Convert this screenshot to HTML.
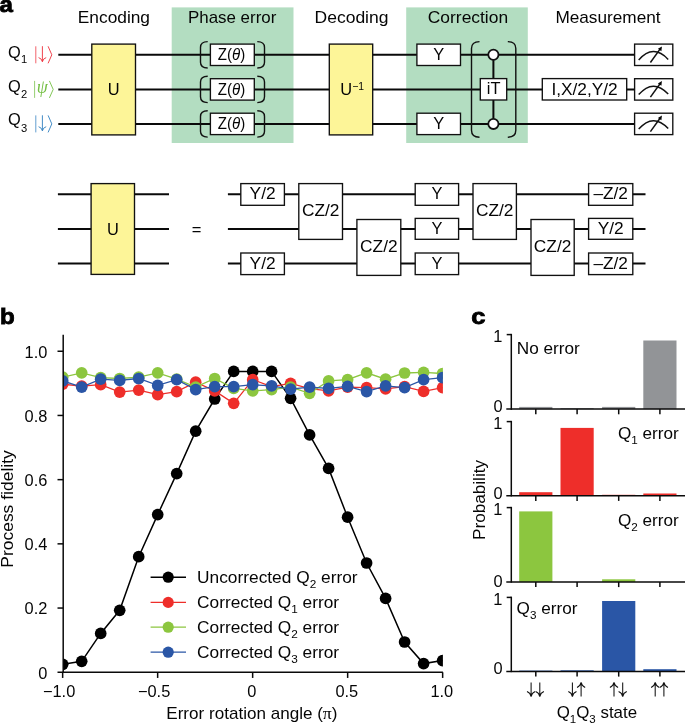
<!DOCTYPE html>
<html><head><meta charset="utf-8"><title>Figure</title>
<style>
html,body{margin:0;padding:0;background:#fff;}
body{width:685px;height:725px;overflow:hidden;}
svg{display:block;will-change:transform;font-family:"Liberation Sans",sans-serif;}
</style></head>
<body>
<svg width="685" height="725" viewBox="0 0 685 725">
<rect width="685" height="725" fill="#fff"/>
<rect x="171.7" y="7.4" width="121.8" height="135.6" fill="#b3ddc1"/>
<rect x="406.2" y="7.4" width="121.6" height="135.6" fill="#b3ddc1"/>
<line x1="58.3" y1="54.8" x2="634.6" y2="54.8" stroke="#0a0a0a" stroke-width="2.05"/>
<line x1="58.3" y1="89.4" x2="634.6" y2="89.4" stroke="#0a0a0a" stroke-width="2.05"/>
<line x1="58.3" y1="123.9" x2="634.6" y2="123.9" stroke="#0a0a0a" stroke-width="2.05"/>
<text x="77.8" y="23.0" font-size="16.4" text-anchor="start" fill="#050505" textLength="72.2" lengthAdjust="spacingAndGlyphs" >Encoding</text>
<text x="188.0" y="23.0" font-size="16.4" text-anchor="start" fill="#050505" textLength="88.3" lengthAdjust="spacingAndGlyphs" >Phase error</text>
<text x="314.5" y="23.0" font-size="16.4" text-anchor="start" fill="#050505" textLength="74" lengthAdjust="spacingAndGlyphs" >Decoding</text>
<text x="427.8" y="23.0" font-size="16.4" text-anchor="start" fill="#050505" textLength="80.3" lengthAdjust="spacingAndGlyphs" >Correction</text>
<text x="555.4" y="23.0" font-size="16.4" text-anchor="start" fill="#050505" textLength="105.2" lengthAdjust="spacingAndGlyphs" >Measurement</text>
<text x="-0.6" y="11.9" font-size="21.5" text-anchor="start" fill="#000" textLength="13.4" lengthAdjust="spacingAndGlyphs" font-weight="bold" stroke="#000" stroke-width="0.8">a</text>
<text x="0.0" y="324" font-size="21.5" text-anchor="start" fill="#000" textLength="14.7" lengthAdjust="spacingAndGlyphs" font-weight="bold" stroke="#000" stroke-width="0.8">b</text>
<text x="471.3" y="324" font-size="21.5" text-anchor="start" fill="#000" textLength="14.2" lengthAdjust="spacingAndGlyphs" font-weight="bold" stroke="#000" stroke-width="0.8">c</text>
<rect x="91.8" y="44.1" width="43.7" height="90.8" fill="#fdf598" stroke="#111" stroke-width="1.35"/>
<text x="113.6" y="94.6" font-size="16.4" text-anchor="middle" fill="#050505" >U</text>
<rect x="329.3" y="44.1" width="43.4" height="90.8" fill="#fdf598" stroke="#111" stroke-width="1.35"/>
<text x="340.2" y="94.5" font-size="16.4" text-anchor="start" fill="#050505" >U</text>
<text x="352.2" y="90.0" font-size="10.4" text-anchor="start" fill="#050505" >&#8722;1</text>
<rect x="210.4" y="44.099999999999994" width="43.9" height="21.4" fill="#fff" stroke="#111" stroke-width="1.35"/>
<text x="217.8" y="59.9" font-size="16.4" fill="#050505" textLength="27.4" lengthAdjust="spacingAndGlyphs">Z(<tspan font-style="italic">&#952;</tspan>)</text>
<path d="M207.7,41.6 Q200.5,41.6 200.5,47.4 L200.5,62.2 Q200.5,68.0 207.7,68.0" fill="none" stroke="#111" stroke-width="1.4"/>
<path d="M257.3,41.6 Q264.5,41.6 264.5,47.4 L264.5,62.2 Q264.5,68.0 257.3,68.0" fill="none" stroke="#111" stroke-width="1.4"/>
<rect x="210.4" y="78.7" width="43.9" height="21.4" fill="#fff" stroke="#111" stroke-width="1.35"/>
<text x="217.8" y="94.5" font-size="16.4" fill="#050505" textLength="27.4" lengthAdjust="spacingAndGlyphs">Z(<tspan font-style="italic">&#952;</tspan>)</text>
<path d="M207.7,76.2 Q200.5,76.2 200.5,82.0 L200.5,96.8 Q200.5,102.6 207.7,102.6" fill="none" stroke="#111" stroke-width="1.4"/>
<path d="M257.3,76.2 Q264.5,76.2 264.5,82.0 L264.5,96.8 Q264.5,102.6 257.3,102.6" fill="none" stroke="#111" stroke-width="1.4"/>
<rect x="210.4" y="113.2" width="43.9" height="21.4" fill="#fff" stroke="#111" stroke-width="1.35"/>
<text x="217.8" y="129.0" font-size="16.4" fill="#050505" textLength="27.4" lengthAdjust="spacingAndGlyphs">Z(<tspan font-style="italic">&#952;</tspan>)</text>
<path d="M207.7,110.7 Q200.5,110.7 200.5,116.5 L200.5,131.3 Q200.5,137.1 207.7,137.1" fill="none" stroke="#111" stroke-width="1.4"/>
<path d="M257.3,110.7 Q264.5,110.7 264.5,116.5 L264.5,131.3 Q264.5,137.1 257.3,137.1" fill="none" stroke="#111" stroke-width="1.4"/>
<rect x="416.9" y="44.099999999999994" width="43.6" height="21.4" fill="#fff" stroke="#111" stroke-width="1.35"/>
<text x="438.7" y="59.9" font-size="16.4" text-anchor="middle" fill="#050505" >Y</text>
<rect x="416.9" y="113.2" width="43.6" height="21.4" fill="#fff" stroke="#111" stroke-width="1.35"/>
<text x="438.7" y="129.0" font-size="16.4" text-anchor="middle" fill="#050505" >Y</text>
<path d="M479.5,41.6 Q471.5,41.6 471.5,48.5 L471.5,130.3 Q471.5,137.2 479.5,137.2" fill="none" stroke="#111" stroke-width="1.4"/>
<path d="M507.79999999999995,41.6 Q515.8,41.6 515.8,48.5 L515.8,130.3 Q515.8,137.2 507.79999999999995,137.2" fill="none" stroke="#111" stroke-width="1.4"/>
<line x1="493.4" y1="54.8" x2="493.4" y2="123.9" stroke="#0a0a0a" stroke-width="2.0"/>
<circle cx="493.4" cy="54.8" r="5.1" fill="#fff" stroke="#111" stroke-width="1.8"/>
<circle cx="493.4" cy="123.9" r="5.1" fill="#fff" stroke="#111" stroke-width="1.8"/>
<rect x="480.3" y="78.6" width="26.4" height="21.4" fill="#fff" stroke="#111" stroke-width="1.35"/>
<text x="493.6" y="94.2" font-size="16.4" text-anchor="middle" fill="#050505" >iT</text>
<rect x="542.3" y="78.6" width="84.4" height="21.4" fill="#fff" stroke="#111" stroke-width="1.35"/>
<text x="584.6" y="94.5" font-size="16.4" text-anchor="middle" fill="#050505" textLength="66.3" lengthAdjust="spacingAndGlyphs" >I,X/2,Y/2</text>
<rect x="634.6" y="44.099999999999994" width="38.2" height="21.4" fill="#fff" stroke="#111" stroke-width="1.35"/>
<path d="M638.7,60.0 Q653.3,43.4 668.2,59.4" fill="none" stroke="#111" stroke-width="1.5"/>
<path d="M650.4,62.5 L660.4,48.6" fill="none" stroke="#111" stroke-width="1.5"/>
<path d="M661.9,46.5 L657.9,48.8 L661.4,51.2 Z" fill="#050505"/>
<rect x="634.6" y="78.7" width="38.2" height="21.4" fill="#fff" stroke="#111" stroke-width="1.35"/>
<path d="M638.7,94.6 Q653.3,78.0 668.2,94.0" fill="none" stroke="#111" stroke-width="1.5"/>
<path d="M650.4,97.1 L660.4,83.2" fill="none" stroke="#111" stroke-width="1.5"/>
<path d="M661.9,81.1 L657.9,83.4 L661.4,85.8 Z" fill="#050505"/>
<rect x="634.6" y="113.2" width="38.2" height="21.4" fill="#fff" stroke="#111" stroke-width="1.35"/>
<path d="M638.7,129.1 Q653.3,112.5 668.2,128.5" fill="none" stroke="#111" stroke-width="1.5"/>
<path d="M650.4,131.6 L660.4,117.7" fill="none" stroke="#111" stroke-width="1.5"/>
<path d="M661.9,115.6 L657.9,117.9 L661.4,120.3 Z" fill="#050505"/>
<text x="7.9" y="57.5" font-size="16.4" fill="#050505">Q<tspan dx="0.3" font-size="11.2" dy="5.9">1</tspan></text>
<text x="7.9" y="92.1" font-size="16.4" fill="#050505">Q<tspan dx="0.3" font-size="11.2" dy="5.9">2</tspan></text>
<text x="7.9" y="125.3" font-size="16.4" fill="#050505">Q<tspan dx="0.3" font-size="11.2" dy="6.5">3</tspan></text>
<g stroke="#ed2f3a" fill="none">
<path stroke-width="0.75" d="M35.8,46.3 V63.3"/>
<path stroke-width="0.9" d="M48.1,46.3 L51.8,54.8 L48.1,63.3"/>
<path stroke-width="0.9" d="M42.4,46.2 V61.2"/>
<path stroke-width="0.9" d="M38.6,57.6 Q41.8,58.5 42.4,61.8 Q43.0,58.5 46.2,57.6"/>
</g>
<g stroke="#74bf44" fill="none">
<path stroke-width="0.75" d="M34.6,80.9 V97.9"/>
<path stroke-width="0.9" d="M49.4,80.9 L53.2,89.4 L49.4,97.9"/>
</g>
<text x="42.3" y="93.0" font-size="18.5" font-family="Liberation Serif, serif" font-style="italic" text-anchor="middle" fill="#74bf44" textLength="11" lengthAdjust="spacingAndGlyphs">&#968;</text>
<g stroke="#2f7fc0" fill="none">
<path stroke-width="0.75" d="M35.8,115.4 V132.4"/>
<path stroke-width="0.9" d="M48.1,115.4 L51.8,123.9 L48.1,132.4"/>
<path stroke-width="0.9" d="M42.4,115.3 V130.3"/>
<path stroke-width="0.9" d="M38.6,126.7 Q41.8,127.6 42.4,130.9 Q43.0,127.6 46.2,126.7"/>
</g>
<line x1="57.9" y1="194.3" x2="169" y2="194.3" stroke="#0a0a0a" stroke-width="2.05"/>
<line x1="57.9" y1="228.9" x2="169" y2="228.9" stroke="#0a0a0a" stroke-width="2.05"/>
<line x1="57.9" y1="263.5" x2="169" y2="263.5" stroke="#0a0a0a" stroke-width="2.05"/>
<rect x="91.1" y="183.6" width="43.4" height="90.8" fill="#fdf598" stroke="#111" stroke-width="1.35"/>
<text x="112.9" y="234.9" font-size="16.4" text-anchor="middle" fill="#050505" >U</text>
<text x="196.6" y="235.3" font-size="16.5" text-anchor="middle" fill="#050505" >=</text>
<line x1="227.9" y1="194.3" x2="645.5" y2="194.3" stroke="#0a0a0a" stroke-width="2.05"/>
<line x1="227.9" y1="228.9" x2="645.5" y2="228.9" stroke="#0a0a0a" stroke-width="2.05"/>
<line x1="227.9" y1="263.5" x2="645.5" y2="263.5" stroke="#0a0a0a" stroke-width="2.05"/>
<rect x="240.8" y="183.6" width="43.6" height="21.7" fill="#fff" stroke="#111" stroke-width="1.35"/>
<text x="262.6" y="199.4" font-size="16.4" text-anchor="middle" fill="#050505" textLength="26" lengthAdjust="spacingAndGlyphs" >Y/2</text>
<rect x="240.8" y="253.0" width="43.6" height="21.6" fill="#fff" stroke="#111" stroke-width="1.35"/>
<text x="262.6" y="268.8" font-size="16.4" text-anchor="middle" fill="#050505" textLength="26" lengthAdjust="spacingAndGlyphs" >Y/2</text>
<rect x="298.8" y="183.6" width="43.7" height="55.8" fill="#fff" stroke="#111" stroke-width="1.35"/>
<text x="320.65" y="216.4" font-size="16.4" text-anchor="middle" fill="#050505" textLength="37.5" lengthAdjust="spacingAndGlyphs" >CZ/2</text>
<rect x="356.9" y="219.5" width="43.9" height="55.9" fill="#fff" stroke="#111" stroke-width="1.35"/>
<text x="378.85" y="252.3" font-size="16.4" text-anchor="middle" fill="#050505" textLength="37.5" lengthAdjust="spacingAndGlyphs" >CZ/2</text>
<rect x="415.2" y="183.6" width="43.4" height="21.7" fill="#fff" stroke="#111" stroke-width="1.35"/>
<text x="436.9" y="199.4" font-size="16.4" text-anchor="middle" fill="#050505" >Y</text>
<rect x="415.2" y="218.4" width="43.4" height="20.9" fill="#fff" stroke="#111" stroke-width="1.35"/>
<text x="436.9" y="233.9" font-size="16.4" text-anchor="middle" fill="#050505" >Y</text>
<rect x="415.2" y="253.0" width="43.4" height="21.6" fill="#fff" stroke="#111" stroke-width="1.35"/>
<text x="436.9" y="268.8" font-size="16.4" text-anchor="middle" fill="#050505" >Y</text>
<rect x="473" y="183.6" width="43.4" height="55.8" fill="#fff" stroke="#111" stroke-width="1.35"/>
<text x="494.7" y="216.4" font-size="16.4" text-anchor="middle" fill="#050505" textLength="37.5" lengthAdjust="spacingAndGlyphs" >CZ/2</text>
<rect x="531" y="219.5" width="43.2" height="55.9" fill="#fff" stroke="#111" stroke-width="1.35"/>
<text x="552.6" y="252.3" font-size="16.4" text-anchor="middle" fill="#050505" textLength="37.5" lengthAdjust="spacingAndGlyphs" >CZ/2</text>
<rect x="588.6" y="183.6" width="44.2" height="21.7" fill="#fff" stroke="#111" stroke-width="1.35"/>
<text x="610.7" y="199.4" font-size="16.4" text-anchor="middle" fill="#050505" textLength="34.5" lengthAdjust="spacingAndGlyphs" >&#8211;Z/2</text>
<rect x="588.6" y="218.4" width="44.2" height="20.9" fill="#fff" stroke="#111" stroke-width="1.35"/>
<text x="610.7" y="233.9" font-size="16.4" text-anchor="middle" fill="#050505" textLength="26" lengthAdjust="spacingAndGlyphs" >Y/2</text>
<rect x="588.6" y="253.0" width="44.2" height="21.6" fill="#fff" stroke="#111" stroke-width="1.35"/>
<text x="610.7" y="268.8" font-size="16.4" text-anchor="middle" fill="#050505" textLength="34.5" lengthAdjust="spacingAndGlyphs" >&#8211;Z/2</text>
<clipPath id="cb"><rect x="63.2" y="330" width="379.7" height="345"/></clipPath>
<g clip-path="url(#cb)">
<polyline points="62.7,664.3 81.7,661.3 100.7,633.4 119.7,610.3 138.7,556.7 157.7,514.6 176.7,473.6 195.7,431.2 214.7,399.0 233.7,371.4 252.7,371.4 271.6,371.4 290.6,398.3 309.6,434.9 328.6,468.4 347.6,517.2 366.6,563.0 385.6,598.4 404.6,642.0 423.6,663.6 442.6,660.6" fill="none" stroke="#000" stroke-width="1.5"/>
<circle cx="62.7" cy="664.3" r="5.85" fill="#000"/>
<circle cx="81.7" cy="661.3" r="5.85" fill="#000"/>
<circle cx="100.7" cy="633.4" r="5.85" fill="#000"/>
<circle cx="119.7" cy="610.3" r="5.85" fill="#000"/>
<circle cx="138.7" cy="556.7" r="5.85" fill="#000"/>
<circle cx="157.7" cy="514.6" r="5.85" fill="#000"/>
<circle cx="176.7" cy="473.6" r="5.85" fill="#000"/>
<circle cx="195.7" cy="431.2" r="5.85" fill="#000"/>
<circle cx="214.7" cy="399.0" r="5.85" fill="#000"/>
<circle cx="233.7" cy="371.4" r="5.85" fill="#000"/>
<circle cx="252.7" cy="371.4" r="5.85" fill="#000"/>
<circle cx="271.6" cy="371.4" r="5.85" fill="#000"/>
<circle cx="290.6" cy="398.3" r="5.85" fill="#000"/>
<circle cx="309.6" cy="434.9" r="5.85" fill="#000"/>
<circle cx="328.6" cy="468.4" r="5.85" fill="#000"/>
<circle cx="347.6" cy="517.2" r="5.85" fill="#000"/>
<circle cx="366.6" cy="563.0" r="5.85" fill="#000"/>
<circle cx="385.6" cy="598.4" r="5.85" fill="#000"/>
<circle cx="404.6" cy="642.0" r="5.85" fill="#000"/>
<circle cx="423.6" cy="663.6" r="5.85" fill="#000"/>
<circle cx="442.6" cy="660.6" r="5.85" fill="#000"/>
<polyline points="62.7,384.2 81.7,386.2 100.7,384.7 119.7,392.1 138.7,390.1 157.7,394.6 176.7,391.6 195.7,382.2 214.7,390.9 233.7,403.3 252.7,379.7 271.6,386.7 290.6,383.4 309.6,388.6 328.6,390.9 347.6,387.1 366.6,387.6 385.6,388.9 404.6,386.7 423.6,391.4 442.6,387.6" fill="none" stroke="#ee2e2a" stroke-width="1.3"/>
<circle cx="62.7" cy="384.2" r="5.85" fill="#ee2e2a"/>
<circle cx="81.7" cy="386.2" r="5.85" fill="#ee2e2a"/>
<circle cx="100.7" cy="384.7" r="5.85" fill="#ee2e2a"/>
<circle cx="119.7" cy="392.1" r="5.85" fill="#ee2e2a"/>
<circle cx="138.7" cy="390.1" r="5.85" fill="#ee2e2a"/>
<circle cx="157.7" cy="394.6" r="5.85" fill="#ee2e2a"/>
<circle cx="176.7" cy="391.6" r="5.85" fill="#ee2e2a"/>
<circle cx="195.7" cy="382.2" r="5.85" fill="#ee2e2a"/>
<circle cx="214.7" cy="390.9" r="5.85" fill="#ee2e2a"/>
<circle cx="233.7" cy="403.3" r="5.85" fill="#ee2e2a"/>
<circle cx="252.7" cy="379.7" r="5.85" fill="#ee2e2a"/>
<circle cx="271.6" cy="386.7" r="5.85" fill="#ee2e2a"/>
<circle cx="290.6" cy="383.4" r="5.85" fill="#ee2e2a"/>
<circle cx="309.6" cy="388.6" r="5.85" fill="#ee2e2a"/>
<circle cx="328.6" cy="390.9" r="5.85" fill="#ee2e2a"/>
<circle cx="347.6" cy="387.1" r="5.85" fill="#ee2e2a"/>
<circle cx="366.6" cy="387.6" r="5.85" fill="#ee2e2a"/>
<circle cx="385.6" cy="388.9" r="5.85" fill="#ee2e2a"/>
<circle cx="404.6" cy="386.7" r="5.85" fill="#ee2e2a"/>
<circle cx="423.6" cy="391.4" r="5.85" fill="#ee2e2a"/>
<circle cx="442.6" cy="387.6" r="5.85" fill="#ee2e2a"/>
<polyline points="62.7,377.2 81.7,372.8 100.7,377.7 119.7,378.5 138.7,377.2 157.7,372.8 176.7,379.2 195.7,387.1 214.7,378.5 233.7,388.4 252.7,390.9 271.6,389.6 290.6,387.1 309.6,393.3 328.6,380.9 347.6,379.7 366.6,372.8 385.6,379.2 404.6,373.0 423.6,372.3 442.6,373.5" fill="none" stroke="#8cc63f" stroke-width="1.3"/>
<circle cx="62.7" cy="377.2" r="5.85" fill="#8cc63f"/>
<circle cx="81.7" cy="372.8" r="5.85" fill="#8cc63f"/>
<circle cx="100.7" cy="377.7" r="5.85" fill="#8cc63f"/>
<circle cx="119.7" cy="378.5" r="5.85" fill="#8cc63f"/>
<circle cx="138.7" cy="377.2" r="5.85" fill="#8cc63f"/>
<circle cx="157.7" cy="372.8" r="5.85" fill="#8cc63f"/>
<circle cx="176.7" cy="379.2" r="5.85" fill="#8cc63f"/>
<circle cx="195.7" cy="387.1" r="5.85" fill="#8cc63f"/>
<circle cx="214.7" cy="378.5" r="5.85" fill="#8cc63f"/>
<circle cx="233.7" cy="388.4" r="5.85" fill="#8cc63f"/>
<circle cx="252.7" cy="390.9" r="5.85" fill="#8cc63f"/>
<circle cx="271.6" cy="389.6" r="5.85" fill="#8cc63f"/>
<circle cx="290.6" cy="387.1" r="5.85" fill="#8cc63f"/>
<circle cx="309.6" cy="393.3" r="5.85" fill="#8cc63f"/>
<circle cx="328.6" cy="380.9" r="5.85" fill="#8cc63f"/>
<circle cx="347.6" cy="379.7" r="5.85" fill="#8cc63f"/>
<circle cx="366.6" cy="372.8" r="5.85" fill="#8cc63f"/>
<circle cx="385.6" cy="379.2" r="5.85" fill="#8cc63f"/>
<circle cx="404.6" cy="373.0" r="5.85" fill="#8cc63f"/>
<circle cx="423.6" cy="372.3" r="5.85" fill="#8cc63f"/>
<circle cx="442.6" cy="373.5" r="5.85" fill="#8cc63f"/>
<polyline points="62.7,380.9 81.7,387.1 100.7,379.2 119.7,380.4 138.7,378.5 157.7,385.4 176.7,379.7 195.7,389.6 214.7,386.7 233.7,386.7 252.7,384.7 271.6,385.9 290.6,389.1 309.6,387.1 328.6,388.4 347.6,386.4 366.6,391.6 385.6,385.9 404.6,387.6 423.6,379.7 442.6,377.7" fill="none" stroke="#2a56a6" stroke-width="1.3"/>
<circle cx="62.7" cy="380.9" r="5.85" fill="#2a56a6"/>
<circle cx="81.7" cy="387.1" r="5.85" fill="#2a56a6"/>
<circle cx="100.7" cy="379.2" r="5.85" fill="#2a56a6"/>
<circle cx="119.7" cy="380.4" r="5.85" fill="#2a56a6"/>
<circle cx="138.7" cy="378.5" r="5.85" fill="#2a56a6"/>
<circle cx="157.7" cy="385.4" r="5.85" fill="#2a56a6"/>
<circle cx="176.7" cy="379.7" r="5.85" fill="#2a56a6"/>
<circle cx="195.7" cy="389.6" r="5.85" fill="#2a56a6"/>
<circle cx="214.7" cy="386.7" r="5.85" fill="#2a56a6"/>
<circle cx="233.7" cy="386.7" r="5.85" fill="#2a56a6"/>
<circle cx="252.7" cy="384.7" r="5.85" fill="#2a56a6"/>
<circle cx="271.6" cy="385.9" r="5.85" fill="#2a56a6"/>
<circle cx="290.6" cy="389.1" r="5.85" fill="#2a56a6"/>
<circle cx="309.6" cy="387.1" r="5.85" fill="#2a56a6"/>
<circle cx="328.6" cy="388.4" r="5.85" fill="#2a56a6"/>
<circle cx="347.6" cy="386.4" r="5.85" fill="#2a56a6"/>
<circle cx="366.6" cy="391.6" r="5.85" fill="#2a56a6"/>
<circle cx="385.6" cy="385.9" r="5.85" fill="#2a56a6"/>
<circle cx="404.6" cy="387.6" r="5.85" fill="#2a56a6"/>
<circle cx="423.6" cy="379.7" r="5.85" fill="#2a56a6"/>
<circle cx="442.6" cy="377.7" r="5.85" fill="#2a56a6"/>
</g>
<line x1="63.2" y1="334.7" x2="63.2" y2="672.95" stroke="#0a0a0a" stroke-width="1.5"/>
<line x1="62.5" y1="672.25" x2="442.9" y2="672.25" stroke="#0a0a0a" stroke-width="1.5"/>
<line x1="57.5" y1="672.25" x2="63.2" y2="672.25" stroke="#0a0a0a" stroke-width="1.5"/>
<text x="47.4" y="678.5" font-size="16.4" text-anchor="end" fill="#050505" >0</text>
<line x1="57.5" y1="608.05" x2="63.2" y2="608.05" stroke="#0a0a0a" stroke-width="1.5"/>
<text x="47.4" y="614.3" font-size="16.4" text-anchor="end" fill="#050505" >0.2</text>
<line x1="57.5" y1="543.85" x2="63.2" y2="543.85" stroke="#0a0a0a" stroke-width="1.5"/>
<text x="47.4" y="550.1" font-size="16.4" text-anchor="end" fill="#050505" >0.4</text>
<line x1="57.5" y1="479.65" x2="63.2" y2="479.65" stroke="#0a0a0a" stroke-width="1.5"/>
<text x="47.4" y="485.9" font-size="16.4" text-anchor="end" fill="#050505" >0.6</text>
<line x1="57.5" y1="415.45" x2="63.2" y2="415.45" stroke="#0a0a0a" stroke-width="1.5"/>
<text x="47.4" y="421.8" font-size="16.4" text-anchor="end" fill="#050505" >0.8</text>
<line x1="57.5" y1="351.25" x2="63.2" y2="351.25" stroke="#0a0a0a" stroke-width="1.5"/>
<text x="47.4" y="357.6" font-size="16.4" text-anchor="end" fill="#050505" >1.0</text>
<line x1="62.650000000000006" y1="672.25" x2="62.650000000000006" y2="677.95" stroke="#0a0a0a" stroke-width="1.5"/>
<text x="59.1" y="696.6" font-size="16.4" text-anchor="middle" fill="#050505" >&#8722;1.0</text>
<line x1="157.65" y1="672.25" x2="157.65" y2="677.95" stroke="#0a0a0a" stroke-width="1.5"/>
<text x="154.1" y="696.6" font-size="16.4" text-anchor="middle" fill="#050505" >&#8722;0.5</text>
<line x1="252.65" y1="672.25" x2="252.65" y2="677.95" stroke="#0a0a0a" stroke-width="1.5"/>
<text x="251.8" y="696.6" font-size="16.4" text-anchor="middle" fill="#050505" >0</text>
<line x1="347.65" y1="672.25" x2="347.65" y2="677.95" stroke="#0a0a0a" stroke-width="1.5"/>
<text x="346.8" y="696.6" font-size="16.4" text-anchor="middle" fill="#050505" >0.5</text>
<line x1="442.65" y1="672.25" x2="442.65" y2="677.95" stroke="#0a0a0a" stroke-width="1.5"/>
<text x="441.8" y="696.6" font-size="16.4" text-anchor="middle" fill="#050505" >1.0</text>
<text x="166.3" y="719.4" font-size="16.4" fill="#050505" textLength="171.2" lengthAdjust="spacingAndGlyphs">Error rotation angle (<tspan font-family="Liberation Serif, serif" font-size="17">&#960;</tspan>)</text>
<text transform="translate(12.9,509) rotate(-90)" font-size="16.4" text-anchor="middle" fill="#050505" textLength="117.5" lengthAdjust="spacingAndGlyphs">Process fidelity</text>
<line x1="150.6" y1="577.2" x2="186" y2="577.2" stroke="#000" stroke-width="1.5"/>
<circle cx="168.2" cy="577.2" r="5.6" fill="#000"/>
<text x="197.1" y="583.2" font-size="16.4" fill="#050505" textLength="160.5" lengthAdjust="spacingAndGlyphs">Uncorrected Q<tspan font-size="11.2" dy="5.0">2</tspan><tspan dy="-5.0"> error</tspan></text>
<line x1="150.6" y1="602.4" x2="186" y2="602.4" stroke="#ee2e2a" stroke-width="1.25"/>
<circle cx="168.2" cy="602.4" r="5.6" fill="#ee2e2a"/>
<text x="197.1" y="608.4" font-size="16.4" fill="#050505" textLength="142" lengthAdjust="spacingAndGlyphs">Corrected Q<tspan font-size="11.2" dy="5.0">1</tspan><tspan dy="-5.0"> error</tspan></text>
<line x1="150.6" y1="627.2" x2="186" y2="627.2" stroke="#8cc63f" stroke-width="1.25"/>
<circle cx="168.2" cy="627.2" r="5.6" fill="#8cc63f"/>
<text x="197.1" y="633.2" font-size="16.4" fill="#050505" textLength="142" lengthAdjust="spacingAndGlyphs">Corrected Q<tspan font-size="11.2" dy="5.0">2</tspan><tspan dy="-5.0"> error</tspan></text>
<line x1="150.6" y1="652.2" x2="186" y2="652.2" stroke="#2a56a6" stroke-width="1.25"/>
<circle cx="168.2" cy="652.2" r="5.6" fill="#2a56a6"/>
<text x="197.1" y="658.2" font-size="16.4" fill="#050505" textLength="142" lengthAdjust="spacingAndGlyphs">Corrected Q<tspan font-size="11.2" dy="5.0">3</tspan><tspan dy="-5.0"> error</tspan></text>
<rect x="519.2" y="406.9" width="33.2" height="2.2" fill="#929497"/>
<rect x="560.5" y="408.2" width="33.2" height="0.9" fill="#929497"/>
<rect x="602.1" y="406.9" width="33.2" height="2.2" fill="#929497"/>
<rect x="643.3" y="340.5" width="33.2" height="68.6" fill="#929497"/>
<line x1="511.3" y1="333.85" x2="511.3" y2="409.85" stroke="#0a0a0a" stroke-width="1.5"/>
<line x1="506.7" y1="334.6" x2="511.3" y2="334.6" stroke="#0a0a0a" stroke-width="1.5"/>
<line x1="506.3" y1="409.1" x2="685" y2="409.1" stroke="#0a0a0a" stroke-width="1.5"/>
<line x1="535.8" y1="409.1" x2="535.8" y2="414.3" stroke="#0a0a0a" stroke-width="1.5"/>
<line x1="577.1" y1="409.1" x2="577.1" y2="414.3" stroke="#0a0a0a" stroke-width="1.5"/>
<line x1="618.7" y1="409.1" x2="618.7" y2="414.3" stroke="#0a0a0a" stroke-width="1.5"/>
<line x1="659.9" y1="409.1" x2="659.9" y2="414.3" stroke="#0a0a0a" stroke-width="1.5"/>
<text x="502.4" y="342.4" font-size="16.4" text-anchor="end" fill="#050505" >1</text>
<text x="502.7" y="411.6" font-size="16.4" text-anchor="end" fill="#050505" >0</text>
<text x="516.8" y="353.6" font-size="16.4" text-anchor="start" fill="#050505" textLength="63" lengthAdjust="spacingAndGlyphs" >No error</text>
<rect x="519.2" y="492.2" width="33.2" height="3.5" fill="#ee2e2a"/>
<rect x="560.5" y="427.9" width="33.2" height="67.8" fill="#ee2e2a"/>
<rect x="602.1" y="494.8" width="33.2" height="0.9" fill="#ee2e2a"/>
<rect x="643.3" y="493.5" width="33.2" height="2.2" fill="#ee2e2a"/>
<line x1="511.3" y1="420.85" x2="511.3" y2="496.45" stroke="#0a0a0a" stroke-width="1.5"/>
<line x1="506.7" y1="421.6" x2="511.3" y2="421.6" stroke="#0a0a0a" stroke-width="1.5"/>
<line x1="506.3" y1="495.7" x2="685" y2="495.7" stroke="#0a0a0a" stroke-width="1.5"/>
<line x1="535.8" y1="495.7" x2="535.8" y2="500.9" stroke="#0a0a0a" stroke-width="1.5"/>
<line x1="577.1" y1="495.7" x2="577.1" y2="500.9" stroke="#0a0a0a" stroke-width="1.5"/>
<line x1="618.7" y1="495.7" x2="618.7" y2="500.9" stroke="#0a0a0a" stroke-width="1.5"/>
<line x1="659.9" y1="495.7" x2="659.9" y2="500.9" stroke="#0a0a0a" stroke-width="1.5"/>
<text x="502.4" y="429.4" font-size="16.4" text-anchor="end" fill="#050505" >1</text>
<text x="502.7" y="498.6" font-size="16.4" text-anchor="end" fill="#050505" >0</text>
<text x="617.9" y="438.6" font-size="16.4" fill="#050505" textLength="60.8" lengthAdjust="spacingAndGlyphs">Q<tspan font-size="11.2" dy="5.0">1</tspan><tspan dy="-5.0"> error</tspan></text>
<rect x="519.2" y="511.4" width="33.2" height="70.5" fill="#8cc63f"/>
<rect x="602.1" y="579.3" width="33.2" height="2.6" fill="#8cc63f"/>
<line x1="511.3" y1="506.85" x2="511.3" y2="582.65" stroke="#0a0a0a" stroke-width="1.5"/>
<line x1="506.7" y1="507.6" x2="511.3" y2="507.6" stroke="#0a0a0a" stroke-width="1.5"/>
<line x1="506.3" y1="581.9" x2="685" y2="581.9" stroke="#0a0a0a" stroke-width="1.5"/>
<line x1="535.8" y1="581.9" x2="535.8" y2="587.1" stroke="#0a0a0a" stroke-width="1.5"/>
<line x1="577.1" y1="581.9" x2="577.1" y2="587.1" stroke="#0a0a0a" stroke-width="1.5"/>
<line x1="618.7" y1="581.9" x2="618.7" y2="587.1" stroke="#0a0a0a" stroke-width="1.5"/>
<line x1="659.9" y1="581.9" x2="659.9" y2="587.1" stroke="#0a0a0a" stroke-width="1.5"/>
<text x="502.4" y="515.4" font-size="16.4" text-anchor="end" fill="#050505" >1</text>
<text x="502.7" y="587.2" font-size="16.4" text-anchor="end" fill="#050505" >0</text>
<text x="617.9" y="526.4" font-size="16.4" fill="#050505" textLength="60.8" lengthAdjust="spacingAndGlyphs">Q<tspan font-size="11.2" dy="5.0">2</tspan><tspan dy="-5.0"> error</tspan></text>
<rect x="519.2" y="670.6" width="33.2" height="0.8" fill="#2a56a6"/>
<rect x="560.5" y="670.3" width="33.2" height="1.1" fill="#2a56a6"/>
<rect x="602.1" y="601.0" width="33.2" height="70.4" fill="#2a56a6"/>
<rect x="643.3" y="669.2" width="33.2" height="2.2" fill="#2a56a6"/>
<line x1="511.3" y1="596.65" x2="511.3" y2="672.15" stroke="#0a0a0a" stroke-width="1.5"/>
<line x1="506.7" y1="597.4" x2="511.3" y2="597.4" stroke="#0a0a0a" stroke-width="1.5"/>
<line x1="506.3" y1="671.4" x2="685" y2="671.4" stroke="#0a0a0a" stroke-width="1.5"/>
<line x1="535.8" y1="671.4" x2="535.8" y2="676.6" stroke="#0a0a0a" stroke-width="1.5"/>
<line x1="577.1" y1="671.4" x2="577.1" y2="676.6" stroke="#0a0a0a" stroke-width="1.5"/>
<line x1="618.7" y1="671.4" x2="618.7" y2="676.6" stroke="#0a0a0a" stroke-width="1.5"/>
<line x1="659.9" y1="671.4" x2="659.9" y2="676.6" stroke="#0a0a0a" stroke-width="1.5"/>
<text x="502.4" y="605.2" font-size="16.4" text-anchor="end" fill="#050505" >1</text>
<text x="502.7" y="674.1" font-size="16.4" text-anchor="end" fill="#050505" >0</text>
<text x="516.6" y="613.6" font-size="16.4" fill="#050505" textLength="60.8" lengthAdjust="spacingAndGlyphs">Q<tspan font-size="11.2" dy="5.0">3</tspan><tspan dy="-5.0"> error</tspan></text>
<text transform="translate(485.3,500) rotate(-90)" font-size="16.4" text-anchor="middle" fill="#050505" textLength="80" lengthAdjust="spacingAndGlyphs">Probability</text>
<path d="M531.1,682.4 V696.0 M527.0,691.6 Q530.4,693.0 531.1,696.6 Q531.8,693.0 535.2,691.6" fill="none" stroke="#111" stroke-width="1.05"/>
<path d="M539.8,682.4 V696.0 M535.7,691.6 Q539.1,693.0 539.8,696.6 Q540.5,693.0 543.9,691.6" fill="none" stroke="#111" stroke-width="1.05"/>
<path d="M572.4,682.4 V696.0 M568.3,691.6 Q571.7,693.0 572.4,696.6 Q573.1,693.0 576.5,691.6" fill="none" stroke="#111" stroke-width="1.05"/>
<path d="M581.1,696.6 V683.0 M577.0,687.4 Q580.4,686.0 581.1,682.4 Q581.8,686.0 585.2,687.4" fill="none" stroke="#111" stroke-width="1.05"/>
<path d="M614.0,696.6 V683.0 M609.9,687.4 Q613.3,686.0 614.0,682.4 Q614.7,686.0 618.1,687.4" fill="none" stroke="#111" stroke-width="1.05"/>
<path d="M622.7,682.4 V696.0 M618.6,691.6 Q622.0,693.0 622.7,696.6 Q623.4,693.0 626.8,691.6" fill="none" stroke="#111" stroke-width="1.05"/>
<path d="M655.2,696.6 V683.0 M651.1,687.4 Q654.5,686.0 655.2,682.4 Q655.9,686.0 659.3,687.4" fill="none" stroke="#111" stroke-width="1.05"/>
<path d="M663.9,696.6 V683.0 M659.8,687.4 Q663.2,686.0 663.9,682.4 Q664.6,686.0 668.0,687.4" fill="none" stroke="#111" stroke-width="1.05"/>
<text x="556.7" y="717.8" font-size="16.4" fill="#050505" textLength="80.4" lengthAdjust="spacingAndGlyphs">Q<tspan font-size="11.2" dy="5.0">1</tspan><tspan dy="-5.0">Q</tspan><tspan font-size="11.2" dy="5.0">3</tspan><tspan dy="-5.0"> state</tspan></text>
</svg>
</body></html>
